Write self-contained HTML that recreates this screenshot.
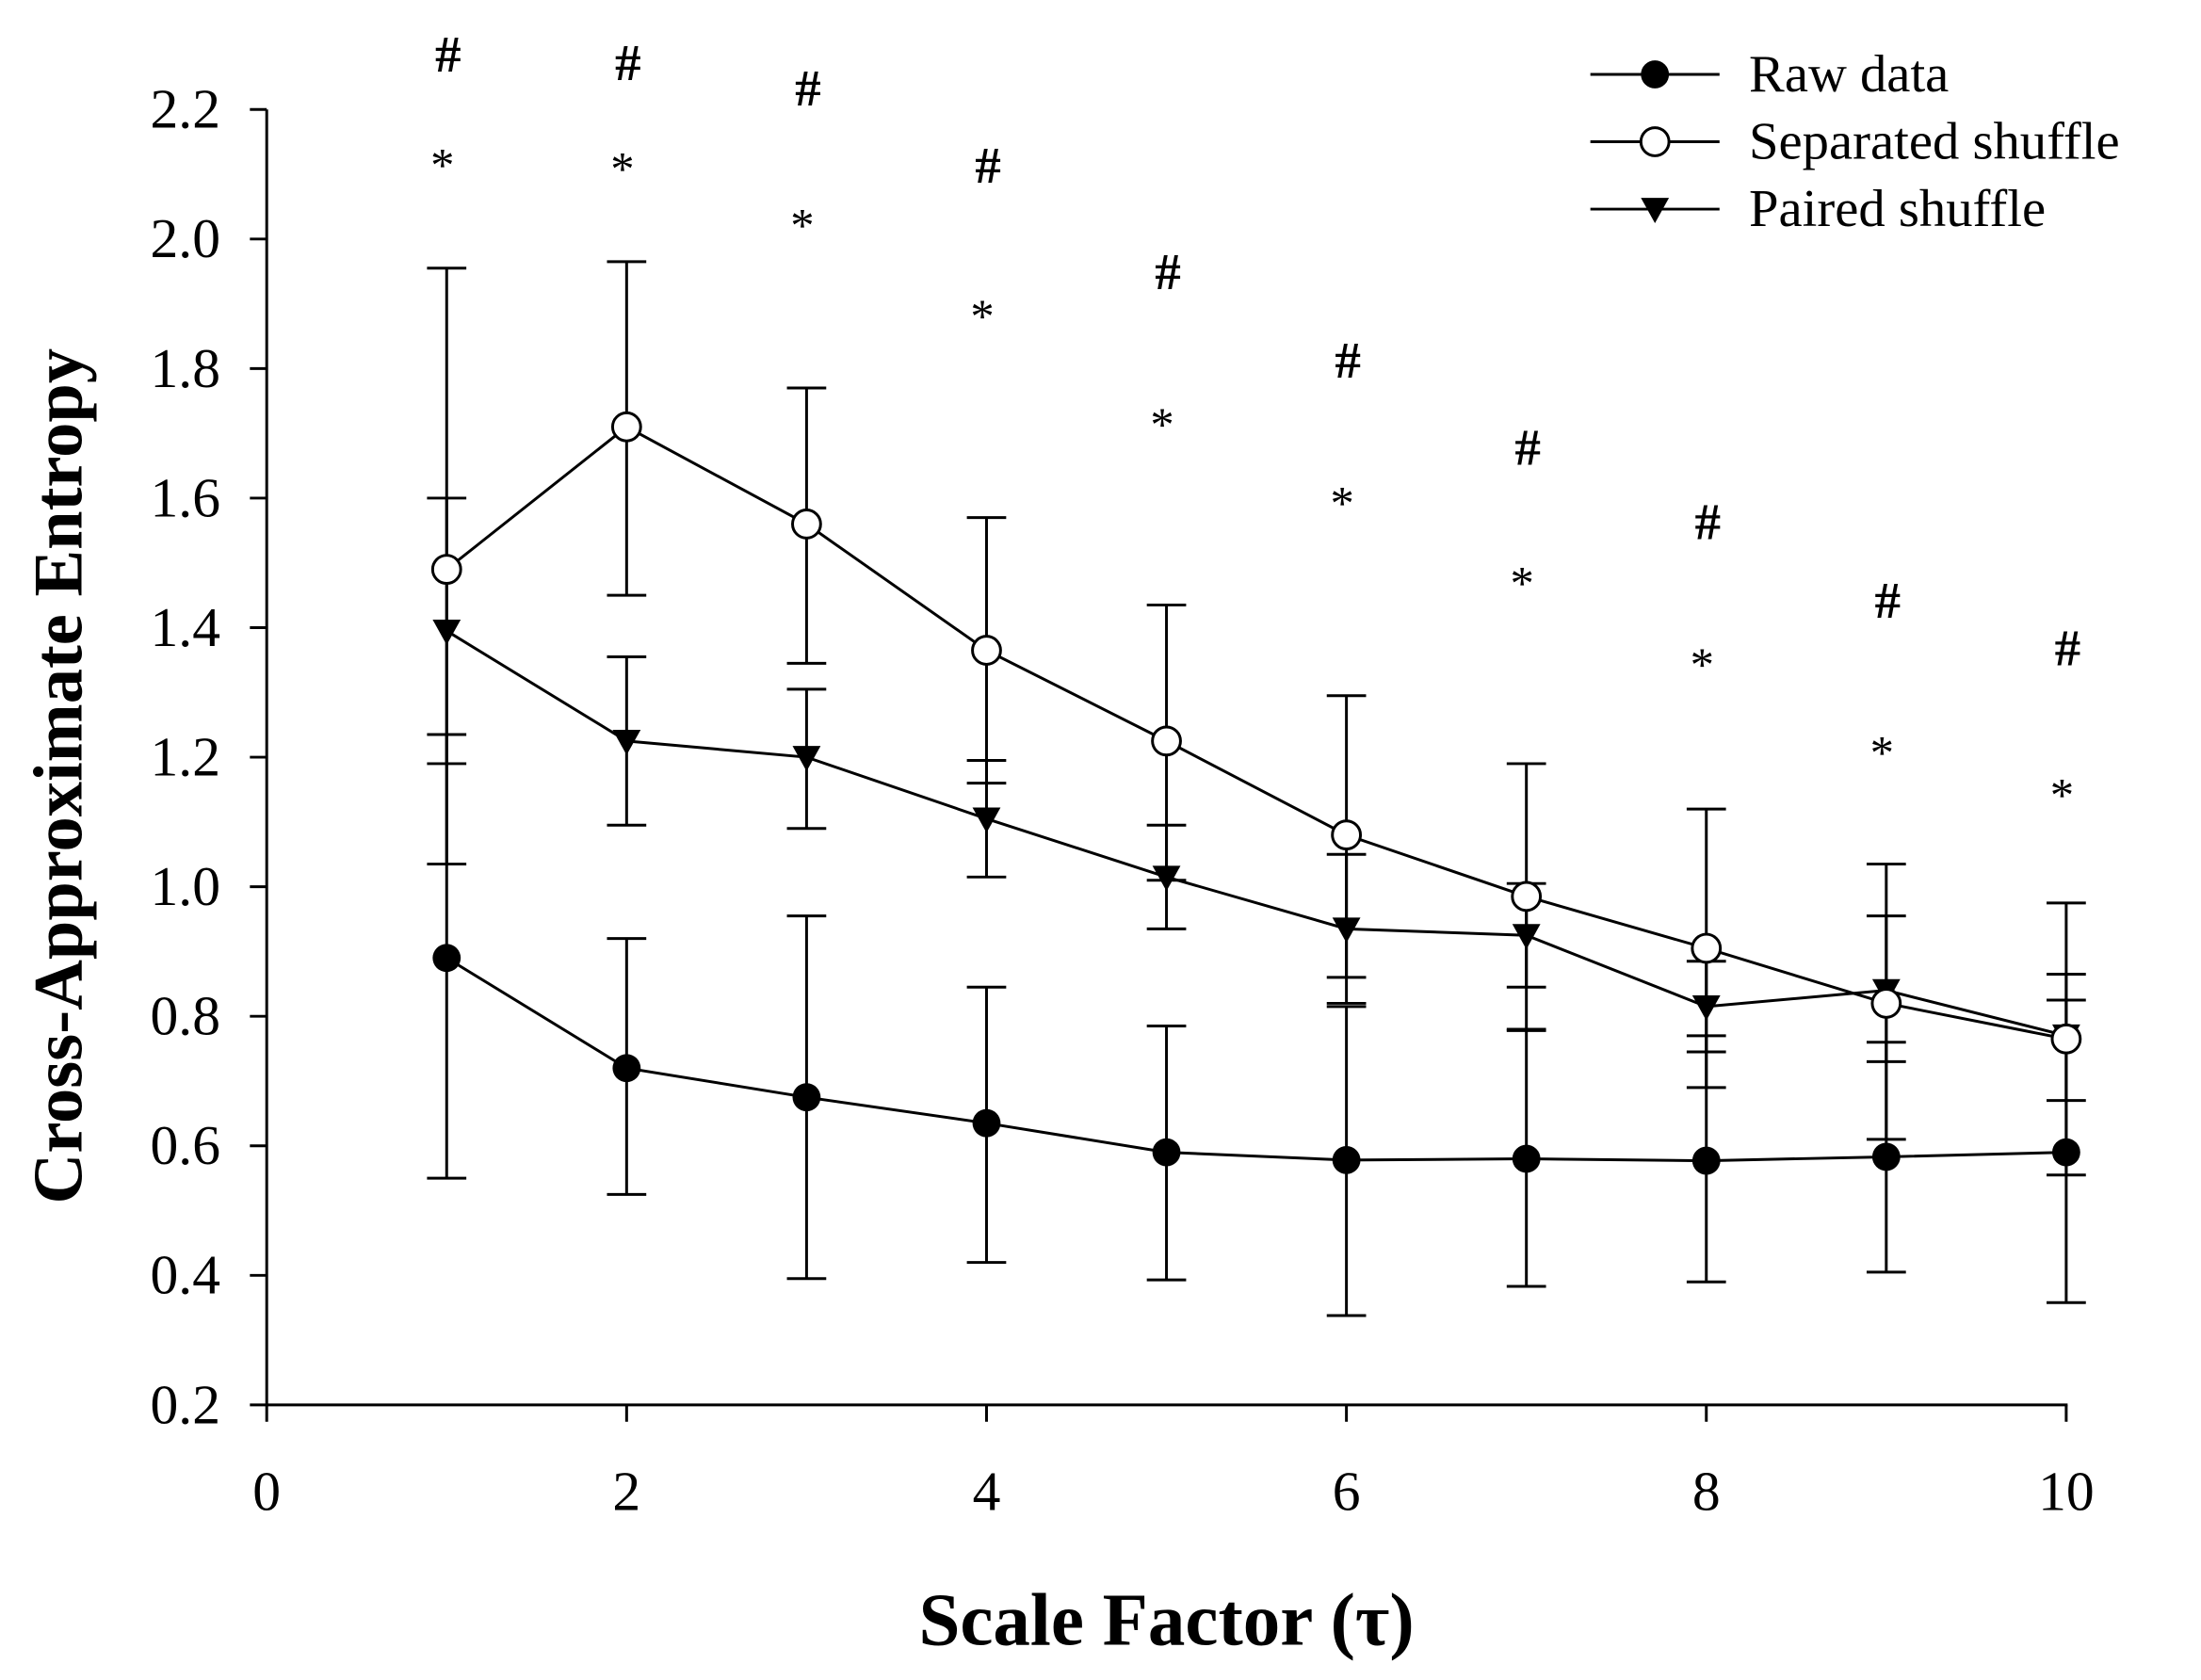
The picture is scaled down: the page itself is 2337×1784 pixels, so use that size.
<!DOCTYPE html>
<html><head><meta charset="utf-8">
<style>html,body{margin:0;padding:0;background:#fff;}svg{display:block;}</style>
</head><body>
<svg id="c" xmlns="http://www.w3.org/2000/svg" width="2337" height="1784" viewBox="0 0 1568 1197" font-family="'Liberation Serif', serif">
<rect width="1568" height="1197" fill="#fff"/>
</svg>
<script>
const s=document.getElementById('c'),NS='http://www.w3.org/2000/svg';
function el(t,a,txt){const e=document.createElementNS(NS,t);for(const k in a)e.setAttribute(k,a[k]);if(txt!==undefined)e.textContent=txt;s.appendChild(e);return e;}
const X=t=>190+128.2*t, Y=v=>1001-(v-0.2)*461.5;
el('line',{x1:190,y1:78,x2:190,y2:1001,stroke:'#000','stroke-width':2});
el('line',{x1:190,y1:1001,x2:1473,y2:1001,stroke:'#000','stroke-width':2});
for(let i=0;i<=10;i++){const v=0.2+i*0.2,y=Y(v);
 el('line',{x1:178,y1:y,x2:190,y2:y,stroke:'#000','stroke-width':2});
 el('text',{x:157,y:y+13,'font-size':40,'text-anchor':'end'},v.toFixed(1));}
for(let t=0;t<=10;t+=2){const x=X(t);
 el('line',{x1:x,y1:1001,x2:x,y2:1013,stroke:'#000','stroke-width':2});
 el('text',{x:x,y:1076,'font-size':40,'text-anchor':'middle'},String(t));}
el('text',{x:831,y:1172,'font-size':53,'font-weight':'bold','text-anchor':'middle'},'Scale Factor (τ)');
el('text',{x:0,y:0,'font-size':50,'font-weight':'bold','text-anchor':'middle',transform:'translate(58,553) rotate(-90)'},'Cross-Approximate Entropy');
const raw=[[.89,.55,1.235],[.72,.525,.92],[.675,.395,.955],[.635,.42,.845],[.59,.393,.785],[.578,.338,.815],[.58,.383,.778],[.577,.39,.77],[.583,.405,.76],[.59,.358,.825]];
const sep=[[1.49,1.035,1.955],[1.71,1.45,1.965],[1.56,1.345,1.77],[1.365,1.16,1.57],[1.225,1.01,1.435],[1.08,.86,1.295],[.985,.78,1.19],[.905,.69,1.12],[.82,.61,1.035],[.765,.555,.975]];
const par=[[1.395,1.19,1.6],[1.225,1.095,1.355],[1.2,1.09,1.305],[1.105,1.015,1.195],[1.015,.935,1.095],[.935,.82,1.05],[.925,.845,1.005],[.815,.745,.885],[.84,.73,.955],[.77,.67,.865]];
function series(d,m){
 d.forEach((p,i)=>{const x=X(i+1);
  el('line',{x1:x,y1:Y(p[1]),x2:x,y2:Y(p[2]),stroke:'#000','stroke-width':2});
  [p[1],p[2]].forEach(v=>el('line',{x1:x-14,y1:Y(v),x2:x+14,y2:Y(v),stroke:'#000','stroke-width':2}));});
 el('polyline',{points:d.map((p,i)=>X(i+1)+','+Y(p[0])).join(' '),fill:'none',stroke:'#000','stroke-width':2});
 d.forEach((p,i)=>mark(X(i+1),Y(p[0]),m));}
function mark(x,y,m){
 if(m=='f')el('circle',{cx:x,cy:y,r:10,fill:'#000'});
 else if(m=='o')el('circle',{cx:x,cy:y,r:10,fill:'#fff',stroke:'#000','stroke-width':2});
 else el('polygon',{points:`${x-10},${y-8} ${x+10},${y-8} ${x},${y+10}`,fill:'#000'});}
series(raw,'f');series(par,'t');series(sep,'o');
const hy=[38,44,62,117,193,256,318,371,427,461],sy=[112,115,155,220,297,353,410,468,531,561];
for(let i=0;i<10;i++){const x=X(i+1);
 el('text',{x:x+1,y:hy[i]+13,'font-size':37,'font-weight':'bold','text-anchor':'middle'},'#');
 el('text',{x:x-3,y:sy[i]+17,'font-size':34,'text-anchor':'middle'},'*');}
[['Raw data','f',53],['Separated shuffle','o',101],['Paired shuffle','t',149]].forEach(l=>{
 el('line',{x1:1133,y1:l[2],x2:1225,y2:l[2],stroke:'#000','stroke-width':2});
 mark(1179,l[2],l[1]);
 el('text',{x:1246,y:l[2]+12,'font-size':38},l[0]);});
</script>
</body></html>
